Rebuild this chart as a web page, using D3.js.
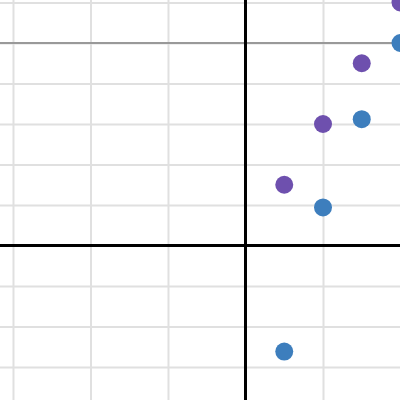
<!DOCTYPE html>
<html>
<head>
<meta charset="utf-8">
<script src="https://cdn.jsdelivr.net/npm/d3@7"></script>
<style>
html, body { margin: 0; padding: 0; background: #fff; }
svg { display: block; }
</style>
</head>
<body>
<svg id="chart" width="400" height="400"></svg>
<script>
// Data
const xTicks = [-3, -2, -1, 1, 2];
const yTicks = [-3, -2, -1, 1, 2, 3, 4, 5, 6];
const xValues = [0.5, 1, 1.5, 2];
const purpleY = [1.5, 3, 4.5, 6];
const blueY = [-2.62, 0.94, 3.12, 5.0];
const refLineY = [5];

const W = 400, H = 400;
const svg = d3.select("#chart");

const x = d3.scaleLinear().domain([-3.1677, 1.9935]).range([0, W]);
const y = d3.scaleLinear().domain([-3.8148, 6.0617]).range([H, 0]);

// grid lines via axes
const gx = svg.append("g").attr("transform", `translate(0,${H})`)
  .call(d3.axisBottom(x).tickValues(xTicks).tickSize(-H).tickFormat(""));
const gy = svg.append("g")
  .call(d3.axisLeft(y).tickValues(yTicks).tickSize(-W).tickFormat(""));
[gx, gy].forEach(g => {
  g.select(".domain").remove();
  g.selectAll(".tick line").attr("stroke", "#e0e0e0").attr("stroke-width", 2);
});

// reference line
svg.selectAll("line.ref").data(refLineY).enter().append("line")
  .attr("class", "ref")
  .attr("x1", 0).attr("x2", W)
  .attr("y1", d => y(d)).attr("y2", d => y(d))
  .attr("stroke", "#999").attr("stroke-width", 2);

// axes
svg.append("line").attr("x1", x(0)).attr("x2", x(0)).attr("y1", 0).attr("y2", H)
  .attr("stroke", "#000").attr("stroke-width", 3);
svg.append("line").attr("x1", 0).attr("x2", W).attr("y1", y(0)).attr("y2", y(0))
  .attr("stroke", "#000").attr("stroke-width", 3);

// points
const blue = xValues.map((v, i) => ({x: v, y: blueY[i]}));
const purple = xValues.map((v, i) => ({x: v, y: purpleY[i]}));
svg.append("g").selectAll("circle").data(blue).enter().append("circle")
  .attr("cx", d => x(d.x)).attr("cy", d => y(d.y)).attr("r", 9)
  .attr("fill", "#3d7ebd");
svg.append("g").selectAll("circle").data(purple).enter().append("circle")
  .attr("cx", d => x(d.x)).attr("cy", d => y(d.y)).attr("r", 9)
  .attr("fill", "#6e50ae");
</script>
</body>
</html>
